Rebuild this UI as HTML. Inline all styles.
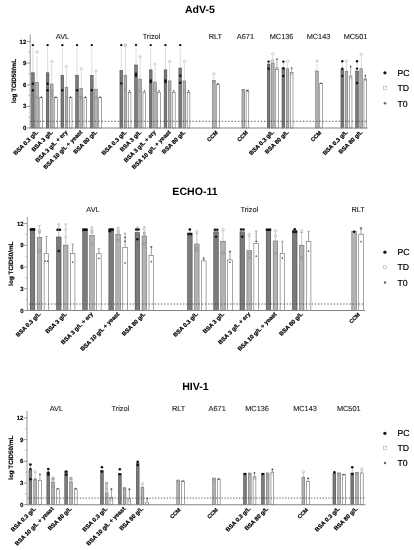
<!DOCTYPE html>
<html><head><meta charset="utf-8"><title>Figure</title>
<style>
html,body{margin:0;padding:0;background:#fff;}
body{width:414px;height:550px;overflow:hidden;}
svg{display:block;}
text{font-family:"Liberation Sans", Arial, sans-serif;fill:#000;text-rendering:geometricPrecision;}
.ttl{font-size:10.6px;font-weight:bold;text-anchor:middle;}
.cat{font-size:7.35px;text-anchor:middle;fill:#222;stroke:#222;stroke-width:0.12px;}
.tick{font-size:6px;font-weight:bold;text-anchor:end;stroke:#000;stroke-width:0.15px;}
.ylab{font-size:6.3px;font-weight:bold;text-anchor:middle;stroke:#000;stroke-width:0.15px;}
.xl{font-size:5.85px;font-weight:bold;text-anchor:end;stroke:#000;stroke-width:0.2px;}
.leg{font-size:8.7px;stroke:#000;stroke-width:0.2px;}
.ax{stroke:#555;stroke-width:0.6;}
.bl{stroke:#858585;stroke-width:1.1;}
.axm{stroke:#777;stroke-width:0.5;}
.err{stroke:#b8b8b8;stroke-width:0.6;}
.errc{stroke:#888;stroke-width:0.6;}
.dash{stroke:#4a4a4a;stroke-width:0.9;}
</style></head>
<body>
<svg width="414" height="550" viewBox="0 0 414 550">
<rect width="414" height="550" fill="#fff"/>
<text x="199.9" y="13.1" class="ttl">AdV-5</text>
<text x="62.5" y="38.7" class="cat">AVL</text>
<text x="151.5" y="38.7" class="cat">Trizol</text>
<text x="215.3" y="38.7" class="cat">RLT</text>
<text x="245.4" y="38.7" class="cat">A671</text>
<text x="281.6" y="38.7" class="cat">MC136</text>
<text x="318.5" y="38.7" class="cat">MC143</text>
<text x="355.5" y="38.7" class="cat">MC501</text>
<line x1="30.2" y1="34.3" x2="30.2" y2="128.4" class="ax"/>
<line x1="27" y1="128" x2="30.2" y2="128" class="ax"/>
<text x="26.3" y="130.1" class="tick">0</text>
<line x1="27" y1="106.37" x2="30.2" y2="106.37" class="ax"/>
<text x="26.3" y="108.47" class="tick">3</text>
<line x1="27" y1="84.74" x2="30.2" y2="84.74" class="ax"/>
<text x="26.3" y="86.84" class="tick">6</text>
<line x1="27" y1="63.11" x2="30.2" y2="63.11" class="ax"/>
<text x="26.3" y="65.21" class="tick">9</text>
<line x1="27" y1="41.48" x2="30.2" y2="41.48" class="ax"/>
<text x="26.3" y="43.58" class="tick">12</text>
<line x1="28.4" y1="117.19" x2="30.2" y2="117.19" class="axm"/>
<line x1="28.4" y1="95.56" x2="30.2" y2="95.56" class="axm"/>
<line x1="28.4" y1="73.92" x2="30.2" y2="73.92" class="axm"/>
<line x1="28.4" y1="52.3" x2="30.2" y2="52.3" class="axm"/>
<text transform="translate(15.6,81) rotate(-90)" class="ylab">log TCID50/mL</text>
<line x1="32.87" y1="47.5" x2="32.87" y2="72.8" stroke="#c4c4c4" stroke-width="0.6"/>
<rect x="31.52" y="72.8" width="2.7" height="55.2" fill="#7b7b7b" stroke="#3a3a3a" stroke-width="0.5"/>
<line x1="37.02" y1="56" x2="37.02" y2="82.4" stroke="#c4c4c4" stroke-width="0.6"/>
<rect x="35.67" y="82.4" width="2.7" height="45.6" fill="#b3b1b3" stroke="#606060" stroke-width="0.5"/>
<rect x="39.82" y="97.5" width="2.7" height="30.5" fill="#ffffff" stroke="#4e4e4e" stroke-width="0.5"/>
<line x1="47.6" y1="47.5" x2="47.6" y2="72.8" stroke="#c4c4c4" stroke-width="0.6"/>
<rect x="46.25" y="72.8" width="2.7" height="55.2" fill="#7b7b7b" stroke="#3a3a3a" stroke-width="0.5"/>
<line x1="51.75" y1="64" x2="51.75" y2="84" stroke="#c4c4c4" stroke-width="0.6"/>
<rect x="50.4" y="84" width="2.7" height="44" fill="#b3b1b3" stroke="#606060" stroke-width="0.5"/>
<rect x="54.55" y="97.5" width="2.7" height="30.5" fill="#ffffff" stroke="#4e4e4e" stroke-width="0.5"/>
<line x1="62.34" y1="47.5" x2="62.34" y2="75.3" stroke="#c4c4c4" stroke-width="0.6"/>
<rect x="60.99" y="75.3" width="2.7" height="52.7" fill="#7b7b7b" stroke="#3a3a3a" stroke-width="0.5"/>
<line x1="66.49" y1="69" x2="66.49" y2="87.3" stroke="#c4c4c4" stroke-width="0.6"/>
<rect x="65.14" y="87.3" width="2.7" height="40.7" fill="#b3b1b3" stroke="#606060" stroke-width="0.5"/>
<rect x="69.29" y="97.5" width="2.7" height="30.5" fill="#ffffff" stroke="#4e4e4e" stroke-width="0.5"/>
<line x1="77.07" y1="47.5" x2="77.07" y2="75.3" stroke="#c4c4c4" stroke-width="0.6"/>
<rect x="75.72" y="75.3" width="2.7" height="52.7" fill="#7b7b7b" stroke="#3a3a3a" stroke-width="0.5"/>
<line x1="81.22" y1="71" x2="81.22" y2="88.2" stroke="#c4c4c4" stroke-width="0.6"/>
<rect x="79.88" y="88.2" width="2.7" height="39.8" fill="#b3b1b3" stroke="#606060" stroke-width="0.5"/>
<rect x="84.02" y="97.5" width="2.7" height="30.5" fill="#ffffff" stroke="#4e4e4e" stroke-width="0.5"/>
<line x1="91.81" y1="47.5" x2="91.81" y2="75.3" stroke="#c4c4c4" stroke-width="0.6"/>
<rect x="90.46" y="75.3" width="2.7" height="52.7" fill="#7b7b7b" stroke="#3a3a3a" stroke-width="0.5"/>
<line x1="95.96" y1="73" x2="95.96" y2="89.2" stroke="#c4c4c4" stroke-width="0.6"/>
<rect x="94.61" y="89.2" width="2.7" height="38.8" fill="#b3b1b3" stroke="#606060" stroke-width="0.5"/>
<rect x="98.76" y="97.5" width="2.7" height="30.5" fill="#ffffff" stroke="#4e4e4e" stroke-width="0.5"/>
<line x1="121.28" y1="47.5" x2="121.28" y2="70.5" stroke="#c4c4c4" stroke-width="0.6"/>
<rect x="119.93" y="70.5" width="2.7" height="57.5" fill="#7b7b7b" stroke="#3a3a3a" stroke-width="0.5"/>
<line x1="125.43" y1="47" x2="125.43" y2="75.3" stroke="#c4c4c4" stroke-width="0.6"/>
<rect x="124.08" y="75.3" width="2.7" height="52.7" fill="#b3b1b3" stroke="#606060" stroke-width="0.5"/>
<rect x="128.23" y="92.5" width="2.7" height="35.5" fill="#ffffff" stroke="#4e4e4e" stroke-width="0.5"/>
<line x1="136.01" y1="47.5" x2="136.01" y2="65" stroke="#c4c4c4" stroke-width="0.6"/>
<rect x="134.66" y="65" width="2.7" height="63" fill="#7b7b7b" stroke="#3a3a3a" stroke-width="0.5"/>
<line x1="140.16" y1="59" x2="140.16" y2="79" stroke="#c4c4c4" stroke-width="0.6"/>
<rect x="138.81" y="79" width="2.7" height="49" fill="#b3b1b3" stroke="#606060" stroke-width="0.5"/>
<rect x="142.97" y="92.5" width="2.7" height="35.5" fill="#ffffff" stroke="#4e4e4e" stroke-width="0.5"/>
<line x1="150.75" y1="47.5" x2="150.75" y2="69.9" stroke="#c4c4c4" stroke-width="0.6"/>
<rect x="149.4" y="69.9" width="2.7" height="58.1" fill="#7b7b7b" stroke="#3a3a3a" stroke-width="0.5"/>
<line x1="154.9" y1="66" x2="154.9" y2="82" stroke="#c4c4c4" stroke-width="0.6"/>
<rect x="153.55" y="82" width="2.7" height="46" fill="#b3b1b3" stroke="#606060" stroke-width="0.5"/>
<rect x="157.7" y="92.5" width="2.7" height="35.5" fill="#ffffff" stroke="#4e4e4e" stroke-width="0.5"/>
<line x1="165.49" y1="47.5" x2="165.49" y2="69.9" stroke="#c4c4c4" stroke-width="0.6"/>
<rect x="164.14" y="69.9" width="2.7" height="58.1" fill="#7b7b7b" stroke="#3a3a3a" stroke-width="0.5"/>
<line x1="169.64" y1="64" x2="169.64" y2="80.9" stroke="#c4c4c4" stroke-width="0.6"/>
<rect x="168.29" y="80.9" width="2.7" height="47.1" fill="#b3b1b3" stroke="#606060" stroke-width="0.5"/>
<rect x="172.44" y="92.5" width="2.7" height="35.5" fill="#ffffff" stroke="#4e4e4e" stroke-width="0.5"/>
<line x1="180.22" y1="47.5" x2="180.22" y2="68" stroke="#c4c4c4" stroke-width="0.6"/>
<rect x="178.87" y="68" width="2.7" height="60" fill="#7b7b7b" stroke="#3a3a3a" stroke-width="0.5"/>
<line x1="184.37" y1="64" x2="184.37" y2="80.9" stroke="#c4c4c4" stroke-width="0.6"/>
<rect x="183.02" y="80.9" width="2.7" height="47.1" fill="#b3b1b3" stroke="#606060" stroke-width="0.5"/>
<rect x="187.17" y="92.5" width="2.7" height="35.5" fill="#ffffff" stroke="#4e4e4e" stroke-width="0.5"/>
<line x1="213.84" y1="76" x2="213.84" y2="80.3" stroke="#c4c4c4" stroke-width="0.6"/>
<rect x="212.49" y="80.3" width="2.7" height="47.7" fill="#b3b1b3" stroke="#606060" stroke-width="0.5"/>
<rect x="216.64" y="84.6" width="2.7" height="43.4" fill="#ffffff" stroke="#4e4e4e" stroke-width="0.5"/>
<rect x="241.96" y="89.7" width="2.7" height="38.3" fill="#b3b1b3" stroke="#606060" stroke-width="0.5"/>
<rect x="246.11" y="90" width="2.7" height="38" fill="#ffffff" stroke="#4e4e4e" stroke-width="0.5"/>
<line x1="268.63" y1="62" x2="268.63" y2="64" stroke="#c4c4c4" stroke-width="0.6"/>
<rect x="267.28" y="64" width="2.7" height="64" fill="#7b7b7b" stroke="#3a3a3a" stroke-width="0.5"/>
<line x1="272.78" y1="56" x2="272.78" y2="63.5" stroke="#c4c4c4" stroke-width="0.6"/>
<rect x="271.43" y="63.5" width="2.7" height="64.5" fill="#b3b1b3" stroke="#606060" stroke-width="0.5"/>
<line x1="276.93" y1="58.5" x2="276.93" y2="69.3" stroke="#777777" stroke-width="0.6"/>
<rect x="275.58" y="69.3" width="2.7" height="58.7" fill="#ffffff" stroke="#4e4e4e" stroke-width="0.5"/>
<line x1="283.37" y1="62" x2="283.37" y2="67.6" stroke="#c4c4c4" stroke-width="0.6"/>
<rect x="282.01" y="67.6" width="2.7" height="60.4" fill="#7b7b7b" stroke="#3a3a3a" stroke-width="0.5"/>
<line x1="287.51" y1="63" x2="287.51" y2="68.8" stroke="#c4c4c4" stroke-width="0.6"/>
<rect x="286.16" y="68.8" width="2.7" height="59.2" fill="#b3b1b3" stroke="#606060" stroke-width="0.5"/>
<line x1="291.67" y1="67.2" x2="291.67" y2="72.7" stroke="#777777" stroke-width="0.6"/>
<rect x="290.31" y="72.7" width="2.7" height="55.3" fill="#ffffff" stroke="#4e4e4e" stroke-width="0.5"/>
<line x1="316.98" y1="64" x2="316.98" y2="71" stroke="#c4c4c4" stroke-width="0.6"/>
<rect x="315.63" y="71" width="2.7" height="57" fill="#b3b1b3" stroke="#606060" stroke-width="0.5"/>
<rect x="319.78" y="83.3" width="2.7" height="44.7" fill="#ffffff" stroke="#4e4e4e" stroke-width="0.5"/>
<line x1="342.31" y1="62" x2="342.31" y2="69.6" stroke="#c4c4c4" stroke-width="0.6"/>
<rect x="340.95" y="69.6" width="2.7" height="58.4" fill="#7b7b7b" stroke="#3a3a3a" stroke-width="0.5"/>
<line x1="346.45" y1="62" x2="346.45" y2="71.4" stroke="#c4c4c4" stroke-width="0.6"/>
<rect x="345.1" y="71.4" width="2.7" height="56.6" fill="#b3b1b3" stroke="#606060" stroke-width="0.5"/>
<line x1="350.61" y1="65.6" x2="350.61" y2="76.1" stroke="#777777" stroke-width="0.6"/>
<rect x="349.25" y="76.1" width="2.7" height="51.9" fill="#ffffff" stroke="#4e4e4e" stroke-width="0.5"/>
<line x1="357.04" y1="62" x2="357.04" y2="71" stroke="#c4c4c4" stroke-width="0.6"/>
<rect x="355.69" y="71" width="2.7" height="57" fill="#7b7b7b" stroke="#3a3a3a" stroke-width="0.5"/>
<line x1="361.19" y1="56" x2="361.19" y2="68.8" stroke="#c4c4c4" stroke-width="0.6"/>
<rect x="359.84" y="68.8" width="2.7" height="59.2" fill="#b3b1b3" stroke="#606060" stroke-width="0.5"/>
<line x1="365.34" y1="74.6" x2="365.34" y2="79.7" stroke="#777777" stroke-width="0.6"/>
<rect x="363.99" y="79.7" width="2.7" height="48.3" fill="#ffffff" stroke="#4e4e4e" stroke-width="0.5"/>
<line x1="30.2" y1="121.3" x2="367.5" y2="121.3" class="dash" stroke-dasharray="1.46 1.79" stroke-dashoffset="0.28"/>
<line x1="30.2" y1="128" x2="367.5" y2="128" class="bl"/>
<circle cx="32.87" cy="45.1" r="1.2" fill="#111"/>
<circle cx="32.87" cy="83.8" r="1.2" fill="#111"/>
<circle cx="32.87" cy="90.2" r="1.2" fill="#111"/>
<circle cx="37.02" cy="51.9" r="1.2" fill="#fff" stroke="#9a9a9a" stroke-width="0.5"/>
<rect x="35.92" y="96.4" width="2.2" height="2.2" fill="none" stroke="#8a8a8a" stroke-width="0.5"/>
<path d="M40.17 97.8L41.17 96.1L42.17 97.8Z" fill="#333"/>
<circle cx="47.6" cy="45.1" r="1.2" fill="#111"/>
<circle cx="47.6" cy="83.8" r="1.2" fill="#111"/>
<circle cx="47.6" cy="90.2" r="1.2" fill="#111"/>
<circle cx="51.75" cy="61.6" r="1.2" fill="#fff" stroke="#9a9a9a" stroke-width="0.5"/>
<rect x="50.65" y="90.4" width="2.2" height="2.2" fill="none" stroke="#8a8a8a" stroke-width="0.5"/>
<rect x="50.65" y="94.4" width="2.2" height="2.2" fill="none" stroke="#8a8a8a" stroke-width="0.5"/>
<path d="M54.9 97.8L55.9 96.1L56.9 97.8Z" fill="#333"/>
<circle cx="62.34" cy="45.1" r="1.2" fill="#111"/>
<circle cx="62.34" cy="90.2" r="1.2" fill="#111"/>
<circle cx="66.49" cy="66.6" r="1.2" fill="#fff" stroke="#9a9a9a" stroke-width="0.5"/>
<rect x="65.39" y="96.4" width="2.2" height="2.2" fill="none" stroke="#8a8a8a" stroke-width="0.5"/>
<path d="M69.64 97.8L70.64 96.1L71.64 97.8Z" fill="#333"/>
<circle cx="77.07" cy="45.1" r="1.2" fill="#111"/>
<circle cx="77.07" cy="90.2" r="1.2" fill="#111"/>
<circle cx="81.22" cy="68.9" r="1.2" fill="#fff" stroke="#9a9a9a" stroke-width="0.5"/>
<rect x="80.12" y="96.4" width="2.2" height="2.2" fill="none" stroke="#8a8a8a" stroke-width="0.5"/>
<path d="M84.37 97.8L85.37 96.1L86.37 97.8Z" fill="#333"/>
<circle cx="91.81" cy="45.1" r="1.2" fill="#111"/>
<circle cx="91.81" cy="90.2" r="1.2" fill="#111"/>
<circle cx="95.96" cy="71.2" r="1.2" fill="#fff" stroke="#9a9a9a" stroke-width="0.5"/>
<rect x="94.86" y="96.4" width="2.2" height="2.2" fill="none" stroke="#8a8a8a" stroke-width="0.5"/>
<path d="M99.11 97.8L100.11 96.1L101.11 97.8Z" fill="#333"/>
<circle cx="121.28" cy="45.1" r="1.2" fill="#111"/>
<circle cx="121.28" cy="83.4" r="1.2" fill="#111"/>
<rect x="124.33" y="44" width="2.2" height="2.2" fill="none" stroke="#8a8a8a" stroke-width="0.5"/>
<rect x="124.33" y="89.1" width="2.2" height="2.2" fill="none" stroke="#8a8a8a" stroke-width="0.5"/>
<path d="M128.58 91.4L129.58 89.7L130.58 91.4Z" fill="#333"/>
<circle cx="136.01" cy="45.1" r="1.2" fill="#111"/>
<circle cx="136.01" cy="73.7" r="1.2" fill="#111"/>
<circle cx="136.01" cy="75.7" r="1.2" fill="#111"/>
<circle cx="140.16" cy="56.9" r="1.2" fill="#fff" stroke="#9a9a9a" stroke-width="0.5"/>
<rect x="139.06" y="89.1" width="2.2" height="2.2" fill="none" stroke="#8a8a8a" stroke-width="0.5"/>
<path d="M143.31 91.4L144.31 89.7L145.31 91.4Z" fill="#333"/>
<circle cx="150.75" cy="45.1" r="1.2" fill="#111"/>
<circle cx="150.75" cy="80.5" r="1.2" fill="#111"/>
<circle cx="150.75" cy="82" r="1.2" fill="#111"/>
<circle cx="154.9" cy="64.1" r="1.2" fill="#fff" stroke="#9a9a9a" stroke-width="0.5"/>
<rect x="153.8" y="89.1" width="2.2" height="2.2" fill="none" stroke="#8a8a8a" stroke-width="0.5"/>
<path d="M158.05 91.4L159.05 89.7L160.05 91.4Z" fill="#333"/>
<circle cx="165.49" cy="45.1" r="1.2" fill="#111"/>
<circle cx="165.49" cy="80.5" r="1.2" fill="#111"/>
<circle cx="165.49" cy="82" r="1.2" fill="#111"/>
<circle cx="169.64" cy="61.6" r="1.2" fill="#fff" stroke="#9a9a9a" stroke-width="0.5"/>
<rect x="168.54" y="89.1" width="2.2" height="2.2" fill="none" stroke="#8a8a8a" stroke-width="0.5"/>
<path d="M172.79 91.4L173.79 89.7L174.79 91.4Z" fill="#333"/>
<circle cx="180.22" cy="45.1" r="1.2" fill="#111"/>
<circle cx="180.22" cy="75.7" r="1.2" fill="#111"/>
<circle cx="180.22" cy="82.8" r="1.2" fill="#111"/>
<circle cx="184.37" cy="61.6" r="1.2" fill="#fff" stroke="#9a9a9a" stroke-width="0.5"/>
<rect x="183.27" y="89.1" width="2.2" height="2.2" fill="none" stroke="#8a8a8a" stroke-width="0.5"/>
<path d="M187.52 91.4L188.52 89.7L189.52 91.4Z" fill="#333"/>
<circle cx="213.84" cy="73.8" r="1.2" fill="#fff" stroke="#9a9a9a" stroke-width="0.5"/>
<rect x="212.74" y="80.6" width="2.2" height="2.2" fill="none" stroke="#8a8a8a" stroke-width="0.5"/>
<path d="M216.99 84.3L217.99 82.6L218.99 84.3Z" fill="#333"/>
<rect x="242.21" y="89.3" width="2.2" height="2.2" fill="none" stroke="#8a8a8a" stroke-width="0.5"/>
<path d="M246.46 91.4L247.46 89.7L248.46 91.4Z" fill="#333"/>
<circle cx="268.63" cy="61.6" r="1.2" fill="#111"/>
<circle cx="268.63" cy="68.8" r="1.2" fill="#111"/>
<circle cx="272.78" cy="53.9" r="1.2" fill="#fff" stroke="#9a9a9a" stroke-width="0.5"/>
<rect x="271.68" y="60" width="2.2" height="2.2" fill="none" stroke="#8a8a8a" stroke-width="0.5"/>
<path d="M275.93 59.8L276.93 58.1L277.93 59.8Z" fill="#333"/>
<rect x="275.83" y="67.4" width="2.2" height="2.2" fill="none" stroke="#8a8a8a" stroke-width="0.5"/>
<circle cx="283.37" cy="61.6" r="1.2" fill="#111"/>
<circle cx="283.37" cy="68.6" r="1.2" fill="#111"/>
<circle cx="283.37" cy="75.9" r="1.2" fill="#111"/>
<circle cx="287.51" cy="61.4" r="1.2" fill="#fff" stroke="#9a9a9a" stroke-width="0.5"/>
<path d="M290.67 68.6L291.67 66.9L292.67 68.6Z" fill="#333"/>
<rect x="290.56" y="72.4" width="2.2" height="2.2" fill="none" stroke="#8a8a8a" stroke-width="0.5"/>
<circle cx="316.98" cy="61.3" r="1.2" fill="#fff" stroke="#9a9a9a" stroke-width="0.5"/>
<path d="M320.13 83.8L321.13 82.1L322.13 83.8Z" fill="#333"/>
<circle cx="342.31" cy="61.3" r="1.2" fill="#111"/>
<circle cx="342.31" cy="68.8" r="1.2" fill="#111"/>
<circle cx="342.31" cy="76.1" r="1.2" fill="#111"/>
<circle cx="346.45" cy="60.9" r="1.2" fill="#fff" stroke="#9a9a9a" stroke-width="0.5"/>
<path d="M349.61 67.3L350.61 65.6L351.61 67.3Z" fill="#333"/>
<rect x="349.5" y="76.4" width="2.2" height="2.2" fill="none" stroke="#8a8a8a" stroke-width="0.5"/>
<circle cx="357.04" cy="61.3" r="1.2" fill="#111"/>
<circle cx="357.04" cy="68.6" r="1.2" fill="#111"/>
<circle cx="357.04" cy="83" r="1.2" fill="#111"/>
<circle cx="361.19" cy="54.3" r="1.2" fill="#fff" stroke="#9a9a9a" stroke-width="0.5"/>
<path d="M364.34 76.3L365.34 74.6L366.34 76.3Z" fill="#333"/>
<rect x="364.24" y="78.4" width="2.2" height="2.2" fill="none" stroke="#8a8a8a" stroke-width="0.5"/>
<text transform="translate(38.52,132.6) rotate(-45)" class="xl">BSA 0.3 g/L</text>
<text transform="translate(53.25,132.6) rotate(-45)" class="xl">BSA 3 g/L</text>
<text transform="translate(67.99,132.6) rotate(-45)" class="xl">BSA 3 g/L + ery</text>
<text transform="translate(82.72,132.6) rotate(-45)" class="xl">BSA 10 g/L + yeast</text>
<text transform="translate(97.46,132.6) rotate(-45)" class="xl">BSA 80 g/L</text>
<text transform="translate(126.93,132.6) rotate(-45)" class="xl">BSA 0.3 g/L</text>
<text transform="translate(141.66,132.6) rotate(-45)" class="xl">BSA 3 g/L</text>
<text transform="translate(156.4,132.6) rotate(-45)" class="xl">BSA 3 g/L + ery</text>
<text transform="translate(171.14,132.6) rotate(-45)" class="xl">BSA 10 g/L + yeast</text>
<text transform="translate(185.87,132.6) rotate(-45)" class="xl">BSA 80 g/L</text>
<text transform="translate(218.22,133.1) rotate(-45)" class="xl" style="font-size:5.5px">CCM</text>
<text transform="translate(248.28,133.1) rotate(-45)" class="xl" style="font-size:5.5px">CCM</text>
<text transform="translate(274.28,132.6) rotate(-45)" class="xl">BSA 0.3 g/L</text>
<text transform="translate(289.01,132.6) rotate(-45)" class="xl">BSA 80 g/L</text>
<text transform="translate(321.86,133.2) rotate(-45)" class="xl" style="font-size:5.5px">CCM</text>
<text transform="translate(347.95,132.6) rotate(-45)" class="xl">BSA 0.3 g/L</text>
<text transform="translate(362.69,132.6) rotate(-45)" class="xl">BSA 80 g/L</text>
<circle cx="384.9" cy="72.8" r="1.6" fill="#111"/>
<rect x="383.6" y="86.6" width="2.8" height="2.8" fill="#fff" stroke="#999" stroke-width="0.5"/>
<circle cx="385" cy="103.3" r="1.25" fill="#6a6a6a"/>
<text x="397.4" y="75.7" class="leg">PC</text>
<text x="397.4" y="91.2" class="leg">TD</text>
<text x="397.4" y="106.5" class="leg">T0</text>
<text x="195" y="195.1" class="ttl">ECHO-11</text>
<text x="93" y="212" class="cat">AVL</text>
<text x="249.3" y="212" class="cat">Trizol</text>
<text x="358.1" y="212" class="cat">RLT</text>
<line x1="27.3" y1="217" x2="27.3" y2="310.9" class="ax"/>
<line x1="24.1" y1="310.5" x2="27.3" y2="310.5" class="ax"/>
<text x="23.6" y="312.6" class="tick">0</text>
<line x1="24.1" y1="288.78" x2="27.3" y2="288.78" class="ax"/>
<text x="23.6" y="290.88" class="tick">3</text>
<line x1="24.1" y1="267.06" x2="27.3" y2="267.06" class="ax"/>
<text x="23.6" y="269.16" class="tick">6</text>
<line x1="24.1" y1="245.34" x2="27.3" y2="245.34" class="ax"/>
<text x="23.6" y="247.44" class="tick">9</text>
<line x1="24.1" y1="223.62" x2="27.3" y2="223.62" class="ax"/>
<text x="23.6" y="225.72" class="tick">12</text>
<line x1="25.5" y1="299.64" x2="27.3" y2="299.64" class="axm"/>
<line x1="25.5" y1="277.92" x2="27.3" y2="277.92" class="axm"/>
<line x1="25.5" y1="256.2" x2="27.3" y2="256.2" class="axm"/>
<line x1="25.5" y1="234.48" x2="27.3" y2="234.48" class="axm"/>
<text transform="translate(12.9,263.6) rotate(-90)" class="ylab">log TCID50/mL</text>
<rect x="30.22" y="228.6" width="4.6" height="81.9" fill="#7b7b7b" stroke="#3a3a3a" stroke-width="0.5"/>
<line x1="39.47" y1="225.6" x2="39.47" y2="237.2" stroke="#a8a8a8" stroke-width="0.6"/>
<line x1="38.17" y1="225.6" x2="40.77" y2="225.6" class="errc"/>
<rect x="37.17" y="237.2" width="4.6" height="73.3" fill="#b3b1b3" stroke="#606060" stroke-width="0.5"/>
<line x1="46.42" y1="236.5" x2="46.42" y2="253.4" stroke="#5a5a5a" stroke-width="0.6"/>
<line x1="45.12" y1="236.5" x2="47.72" y2="236.5" class="errc"/>
<rect x="44.12" y="253.4" width="4.6" height="57.1" fill="#ffffff" stroke="#4e4e4e" stroke-width="0.5"/>
<line x1="58.74" y1="224" x2="58.74" y2="237" stroke="#8c8c8c" stroke-width="0.6"/>
<line x1="57.44" y1="224" x2="60.04" y2="224" class="errc"/>
<rect x="56.44" y="237" width="4.6" height="73.5" fill="#7b7b7b" stroke="#3a3a3a" stroke-width="0.5"/>
<line x1="65.69" y1="224" x2="65.69" y2="245.1" stroke="#a8a8a8" stroke-width="0.6"/>
<line x1="64.39" y1="224" x2="66.99" y2="224" class="errc"/>
<rect x="63.39" y="245.1" width="4.6" height="65.4" fill="#b3b1b3" stroke="#606060" stroke-width="0.5"/>
<line x1="72.64" y1="244" x2="72.64" y2="253.4" stroke="#5a5a5a" stroke-width="0.6"/>
<line x1="71.34" y1="244" x2="73.94" y2="244" class="errc"/>
<rect x="70.34" y="253.4" width="4.6" height="57.1" fill="#ffffff" stroke="#4e4e4e" stroke-width="0.5"/>
<rect x="82.66" y="228.9" width="4.6" height="81.6" fill="#7b7b7b" stroke="#3a3a3a" stroke-width="0.5"/>
<line x1="91.91" y1="227" x2="91.91" y2="235.4" stroke="#a8a8a8" stroke-width="0.6"/>
<line x1="90.61" y1="227" x2="93.21" y2="227" class="errc"/>
<rect x="89.61" y="235.4" width="4.6" height="75.1" fill="#b3b1b3" stroke="#606060" stroke-width="0.5"/>
<line x1="98.86" y1="248.6" x2="98.86" y2="253.8" stroke="#5a5a5a" stroke-width="0.6"/>
<line x1="97.56" y1="248.6" x2="100.16" y2="248.6" class="errc"/>
<rect x="96.56" y="253.8" width="4.6" height="56.7" fill="#ffffff" stroke="#4e4e4e" stroke-width="0.5"/>
<rect x="108.88" y="229.3" width="4.6" height="81.2" fill="#7b7b7b" stroke="#3a3a3a" stroke-width="0.5"/>
<line x1="118.13" y1="227.7" x2="118.13" y2="234.2" stroke="#a8a8a8" stroke-width="0.6"/>
<line x1="116.83" y1="227.7" x2="119.43" y2="227.7" class="errc"/>
<rect x="115.83" y="234.2" width="4.6" height="76.3" fill="#b3b1b3" stroke="#606060" stroke-width="0.5"/>
<line x1="125.08" y1="233.1" x2="125.08" y2="247.3" stroke="#5a5a5a" stroke-width="0.6"/>
<line x1="123.78" y1="233.1" x2="126.38" y2="233.1" class="errc"/>
<rect x="122.78" y="247.3" width="4.6" height="63.2" fill="#ffffff" stroke="#4e4e4e" stroke-width="0.5"/>
<line x1="137.4" y1="227" x2="137.4" y2="232.5" stroke="#8c8c8c" stroke-width="0.6"/>
<line x1="136.1" y1="227" x2="138.7" y2="227" class="errc"/>
<rect x="135.1" y="232.5" width="4.6" height="78" fill="#7b7b7b" stroke="#3a3a3a" stroke-width="0.5"/>
<line x1="144.35" y1="227" x2="144.35" y2="236" stroke="#a8a8a8" stroke-width="0.6"/>
<line x1="143.05" y1="227" x2="145.65" y2="227" class="errc"/>
<rect x="142.05" y="236" width="4.6" height="74.5" fill="#b3b1b3" stroke="#606060" stroke-width="0.5"/>
<line x1="151.3" y1="246.6" x2="151.3" y2="255.4" stroke="#5a5a5a" stroke-width="0.6"/>
<line x1="150" y1="246.6" x2="152.6" y2="246.6" class="errc"/>
<rect x="149" y="255.4" width="4.6" height="55.1" fill="#ffffff" stroke="#4e4e4e" stroke-width="0.5"/>
<line x1="189.84" y1="229" x2="189.84" y2="233.1" stroke="#8c8c8c" stroke-width="0.6"/>
<line x1="188.54" y1="229" x2="191.14" y2="229" class="errc"/>
<rect x="187.54" y="233.1" width="4.6" height="77.4" fill="#7b7b7b" stroke="#3a3a3a" stroke-width="0.5"/>
<line x1="196.79" y1="233.1" x2="196.79" y2="244" stroke="#a8a8a8" stroke-width="0.6"/>
<line x1="195.49" y1="233.1" x2="198.09" y2="233.1" class="errc"/>
<rect x="194.49" y="244" width="4.6" height="66.5" fill="#b3b1b3" stroke="#606060" stroke-width="0.5"/>
<line x1="203.74" y1="257.9" x2="203.74" y2="260.9" stroke="#5a5a5a" stroke-width="0.6"/>
<line x1="202.44" y1="257.9" x2="205.04" y2="257.9" class="errc"/>
<rect x="201.44" y="260.9" width="4.6" height="49.6" fill="#ffffff" stroke="#4e4e4e" stroke-width="0.5"/>
<rect x="213.76" y="231.8" width="4.6" height="78.7" fill="#7b7b7b" stroke="#3a3a3a" stroke-width="0.5"/>
<line x1="223.01" y1="229.7" x2="223.01" y2="241.2" stroke="#a8a8a8" stroke-width="0.6"/>
<line x1="221.71" y1="229.7" x2="224.31" y2="229.7" class="errc"/>
<rect x="220.71" y="241.2" width="4.6" height="69.3" fill="#b3b1b3" stroke="#606060" stroke-width="0.5"/>
<line x1="229.96" y1="251.2" x2="229.96" y2="259.9" stroke="#5a5a5a" stroke-width="0.6"/>
<line x1="228.66" y1="251.2" x2="231.26" y2="251.2" class="errc"/>
<rect x="227.66" y="259.9" width="4.6" height="50.6" fill="#ffffff" stroke="#4e4e4e" stroke-width="0.5"/>
<rect x="239.98" y="231.8" width="4.6" height="78.7" fill="#7b7b7b" stroke="#3a3a3a" stroke-width="0.5"/>
<line x1="249.23" y1="236.1" x2="249.23" y2="250.5" stroke="#a8a8a8" stroke-width="0.6"/>
<line x1="247.93" y1="236.1" x2="250.53" y2="236.1" class="errc"/>
<rect x="246.93" y="250.5" width="4.6" height="60" fill="#b3b1b3" stroke="#606060" stroke-width="0.5"/>
<line x1="256.18" y1="231" x2="256.18" y2="243.3" stroke="#5a5a5a" stroke-width="0.6"/>
<line x1="254.88" y1="231" x2="257.48" y2="231" class="errc"/>
<rect x="253.88" y="243.3" width="4.6" height="67.2" fill="#ffffff" stroke="#4e4e4e" stroke-width="0.5"/>
<rect x="266.2" y="229.4" width="4.6" height="81.1" fill="#7b7b7b" stroke="#3a3a3a" stroke-width="0.5"/>
<line x1="275.45" y1="230.7" x2="275.45" y2="241" stroke="#a8a8a8" stroke-width="0.6"/>
<line x1="274.15" y1="230.7" x2="276.75" y2="230.7" class="errc"/>
<rect x="273.15" y="241" width="4.6" height="69.5" fill="#b3b1b3" stroke="#606060" stroke-width="0.5"/>
<line x1="282.4" y1="241.3" x2="282.4" y2="253.4" stroke="#5a5a5a" stroke-width="0.6"/>
<line x1="281.1" y1="241.3" x2="283.7" y2="241.3" class="errc"/>
<rect x="280.1" y="253.4" width="4.6" height="57.1" fill="#ffffff" stroke="#4e4e4e" stroke-width="0.5"/>
<rect x="292.42" y="230.6" width="4.6" height="79.9" fill="#7b7b7b" stroke="#3a3a3a" stroke-width="0.5"/>
<line x1="301.67" y1="232.5" x2="301.67" y2="245.2" stroke="#a8a8a8" stroke-width="0.6"/>
<line x1="300.37" y1="232.5" x2="302.97" y2="232.5" class="errc"/>
<rect x="299.37" y="245.2" width="4.6" height="65.3" fill="#b3b1b3" stroke="#606060" stroke-width="0.5"/>
<line x1="308.62" y1="231.3" x2="308.62" y2="241.3" stroke="#5a5a5a" stroke-width="0.6"/>
<line x1="307.32" y1="231.3" x2="309.92" y2="231.3" class="errc"/>
<rect x="306.32" y="241.3" width="4.6" height="69.2" fill="#ffffff" stroke="#4e4e4e" stroke-width="0.5"/>
<rect x="351.81" y="231.2" width="4.6" height="79.3" fill="#b3b1b3" stroke="#606060" stroke-width="0.5"/>
<line x1="361.06" y1="227.5" x2="361.06" y2="234.2" stroke="#5a5a5a" stroke-width="0.6"/>
<line x1="359.76" y1="227.5" x2="362.36" y2="227.5" class="errc"/>
<rect x="358.76" y="234.2" width="4.6" height="76.3" fill="#ffffff" stroke="#4e4e4e" stroke-width="0.5"/>
<line x1="27.3" y1="304" x2="365" y2="304" class="dash" stroke-dasharray="1.41 1.73" stroke-dashoffset="1.33"/>
<line x1="27.3" y1="310.5" x2="365" y2="310.5" class="bl"/>
<circle cx="30.92" cy="229.6" r="1.3" fill="#111"/>
<circle cx="32.02" cy="229.6" r="1.3" fill="#111"/>
<circle cx="33.12" cy="229.6" r="1.3" fill="#111"/>
<circle cx="34.12" cy="229.6" r="1.3" fill="#111"/>
<circle cx="39.47" cy="230.5" r="1.2" fill="#fff" stroke="#9a9a9a" stroke-width="0.5"/>
<rect x="38.37" y="230.9" width="2.2" height="2.2" fill="none" stroke="#8a8a8a" stroke-width="0.5"/>
<rect x="38.37" y="249.9" width="2.2" height="2.2" fill="none" stroke="#8a8a8a" stroke-width="0.5"/>
<path d="M44.12 261.7L45.12 260L46.12 261.7Z" fill="#333"/>
<path d="M46.72 261.7L47.72 260L48.72 261.7Z" fill="#333"/>
<circle cx="57.54" cy="229.7" r="1.3" fill="#111"/>
<circle cx="59.94" cy="229.7" r="1.3" fill="#111"/>
<circle cx="58.74" cy="251" r="1.3" fill="#111"/>
<circle cx="65.69" cy="229.7" r="1.2" fill="#fff" stroke="#9a9a9a" stroke-width="0.5"/>
<circle cx="65.69" cy="236.7" r="1.2" fill="#fff" stroke="#9a9a9a" stroke-width="0.5"/>
<path d="M71.64 262.8L72.64 261.1L73.64 262.8Z" fill="#333"/>
<circle cx="83.36" cy="229.8" r="1.3" fill="#111"/>
<circle cx="84.46" cy="229.8" r="1.3" fill="#111"/>
<circle cx="85.56" cy="229.8" r="1.3" fill="#111"/>
<circle cx="86.56" cy="229.8" r="1.3" fill="#111"/>
<circle cx="91.91" cy="229.5" r="1.2" fill="#fff" stroke="#9a9a9a" stroke-width="0.5"/>
<rect x="90.81" y="230.9" width="2.2" height="2.2" fill="none" stroke="#8a8a8a" stroke-width="0.5"/>
<rect x="90.81" y="242.9" width="2.2" height="2.2" fill="none" stroke="#8a8a8a" stroke-width="0.5"/>
<path d="M97.86 259L98.86 257.3L99.86 259Z" fill="#333"/>
<circle cx="109.58" cy="229.6" r="1.3" fill="#111"/>
<circle cx="110.68" cy="229.6" r="1.3" fill="#111"/>
<circle cx="111.78" cy="229.6" r="1.3" fill="#111"/>
<circle cx="112.78" cy="229.6" r="1.3" fill="#111"/>
<circle cx="109.78" cy="231.3" r="1.3" fill="#111"/>
<circle cx="118.13" cy="229.3" r="1.2" fill="#fff" stroke="#9a9a9a" stroke-width="0.5"/>
<rect x="117.03" y="230.9" width="2.2" height="2.2" fill="none" stroke="#8a8a8a" stroke-width="0.5"/>
<rect x="117.03" y="239.5" width="2.2" height="2.2" fill="none" stroke="#8a8a8a" stroke-width="0.5"/>
<path d="M124.08 238.1L125.08 236.4L126.08 238.1Z" fill="#333"/>
<path d="M124.08 241.8L125.08 240.1L126.08 241.8Z" fill="#333"/>
<path d="M124.08 263.5L125.08 261.8L126.08 263.5Z" fill="#333"/>
<circle cx="136.2" cy="229.5" r="1.3" fill="#111"/>
<circle cx="138.6" cy="229.5" r="1.3" fill="#111"/>
<circle cx="137.4" cy="239.2" r="1.3" fill="#111"/>
<circle cx="144.35" cy="229.3" r="1.2" fill="#fff" stroke="#9a9a9a" stroke-width="0.5"/>
<rect x="143.25" y="232.6" width="2.2" height="2.2" fill="none" stroke="#8a8a8a" stroke-width="0.5"/>
<rect x="143.25" y="242.6" width="2.2" height="2.2" fill="none" stroke="#8a8a8a" stroke-width="0.5"/>
<path d="M150.3 247.6L151.3 245.9L152.3 247.6Z" fill="#333"/>
<path d="M150.3 262.3L151.3 260.6L152.3 262.3Z" fill="#333"/>
<circle cx="189.84" cy="229.5" r="1.3" fill="#111"/>
<circle cx="188.64" cy="234.1" r="1.3" fill="#111"/>
<circle cx="191.04" cy="234.1" r="1.3" fill="#111"/>
<circle cx="196.79" cy="231.3" r="1.2" fill="#fff" stroke="#9a9a9a" stroke-width="0.5"/>
<rect x="195.69" y="247.1" width="2.2" height="2.2" fill="none" stroke="#8a8a8a" stroke-width="0.5"/>
<rect x="195.69" y="249.5" width="2.2" height="2.2" fill="none" stroke="#8a8a8a" stroke-width="0.5"/>
<path d="M202.74 259.3L203.74 257.6L204.74 259.3Z" fill="#333"/>
<circle cx="214.86" cy="229.7" r="1.3" fill="#111"/>
<circle cx="217.26" cy="229.7" r="1.3" fill="#111"/>
<circle cx="216.06" cy="236.7" r="1.3" fill="#111"/>
<circle cx="223.01" cy="229.7" r="1.2" fill="#fff" stroke="#9a9a9a" stroke-width="0.5"/>
<rect x="221.91" y="251.9" width="2.2" height="2.2" fill="none" stroke="#8a8a8a" stroke-width="0.5"/>
<path d="M228.96 252.3L229.96 250.6L230.96 252.3Z" fill="#333"/>
<path d="M228.96 262.8L229.96 261.1L230.96 262.8Z" fill="#333"/>
<circle cx="241.08" cy="229.5" r="1.3" fill="#111"/>
<circle cx="243.48" cy="229.5" r="1.3" fill="#111"/>
<circle cx="242.28" cy="236.7" r="1.3" fill="#111"/>
<circle cx="249.23" cy="234.3" r="1.2" fill="#fff" stroke="#9a9a9a" stroke-width="0.5"/>
<rect x="248.13" y="252.5" width="2.2" height="2.2" fill="none" stroke="#8a8a8a" stroke-width="0.5"/>
<rect x="248.13" y="256.8" width="2.2" height="2.2" fill="none" stroke="#8a8a8a" stroke-width="0.5"/>
<path d="M255.18 242.1L256.18 240.4L257.18 242.1Z" fill="#333"/>
<path d="M255.18 256.8L256.18 255.1L257.18 256.8Z" fill="#333"/>
<circle cx="266.9" cy="229.8" r="1.3" fill="#111"/>
<circle cx="268" cy="229.8" r="1.3" fill="#111"/>
<circle cx="269.1" cy="229.8" r="1.3" fill="#111"/>
<circle cx="270.1" cy="229.8" r="1.3" fill="#111"/>
<circle cx="275.45" cy="230.7" r="1.2" fill="#fff" stroke="#9a9a9a" stroke-width="0.5"/>
<circle cx="275.45" cy="236.1" r="1.2" fill="#fff" stroke="#9a9a9a" stroke-width="0.5"/>
<rect x="274.35" y="252.5" width="2.2" height="2.2" fill="none" stroke="#8a8a8a" stroke-width="0.5"/>
<path d="M281.4 258.7L282.4 257L283.4 258.7Z" fill="#333"/>
<circle cx="294.72" cy="229.3" r="1.3" fill="#111"/>
<circle cx="293.52" cy="231.9" r="1.3" fill="#111"/>
<circle cx="295.92" cy="231.9" r="1.3" fill="#111"/>
<circle cx="301.67" cy="230.7" r="1.2" fill="#fff" stroke="#9a9a9a" stroke-width="0.5"/>
<rect x="300.57" y="256.8" width="2.2" height="2.2" fill="none" stroke="#8a8a8a" stroke-width="0.5"/>
<path d="M307.62 251.8L308.62 250.1L309.62 251.8Z" fill="#333"/>
<circle cx="354.11" cy="231.8" r="1.3" fill="#111"/>
<path d="M360.06 242.2L361.06 240.5L362.06 242.2Z" fill="#333"/>
<path d="M360.06 229.3L361.06 227.6L362.06 229.3Z" fill="#333"/>
<text transform="translate(40.97,314.5) rotate(-45)" class="xl">BSA 0.3 g/L</text>
<text transform="translate(67.19,314.5) rotate(-45)" class="xl">BSA 3 g/L</text>
<text transform="translate(93.41,314.5) rotate(-45)" class="xl">BSA 3 g/L + ery</text>
<text transform="translate(119.63,314.5) rotate(-45)" class="xl">BSA 10 g/L + yeast</text>
<text transform="translate(145.85,314.5) rotate(-45)" class="xl">BSA 80 g/L</text>
<text transform="translate(198.29,314.5) rotate(-45)" class="xl">BSA 0.3 g/L</text>
<text transform="translate(224.51,314.5) rotate(-45)" class="xl">BSA 3 g/L</text>
<text transform="translate(250.73,314.5) rotate(-45)" class="xl">BSA 3 g/L + ery</text>
<text transform="translate(276.95,314.5) rotate(-45)" class="xl">BSA 10 g/L + yeast</text>
<text transform="translate(303.17,314.5) rotate(-45)" class="xl">BSA 80 g/L</text>
<text transform="translate(360.09,315) rotate(-45)" class="xl" style="font-size:5.4px">CCM</text>
<circle cx="384.9" cy="252.2" r="1.6" fill="#111"/>
<rect x="383.6" y="265.8" width="2.8" height="2.8" fill="#fff" stroke="#999" stroke-width="0.5"/>
<circle cx="385" cy="282.5" r="1.25" fill="#6a6a6a"/>
<text x="397.4" y="255.1" class="leg">PC</text>
<text x="397.4" y="270.4" class="leg">TD</text>
<text x="397.4" y="285.7" class="leg">T0</text>
<text x="195.4" y="390.4" class="ttl">HIV-1</text>
<text x="56.4" y="410.6" class="cat">AVL</text>
<text x="120.4" y="410.6" class="cat">Trizol</text>
<text x="178.6" y="410.6" class="cat">RLT</text>
<text x="217.2" y="410.6" class="cat">A671</text>
<text x="257.1" y="410.6" class="cat">MC136</text>
<text x="305" y="410.6" class="cat">MC143</text>
<text x="348.8" y="410.6" class="cat">MC501</text>
<line x1="27" y1="411" x2="27" y2="505.1" class="ax"/>
<line x1="23.8" y1="504.7" x2="27" y2="504.7" class="ax"/>
<text x="23.4" y="506.8" class="tick">0</text>
<line x1="23.8" y1="483.01" x2="27" y2="483.01" class="ax"/>
<text x="23.4" y="485.11" class="tick">3</text>
<line x1="23.8" y1="461.32" x2="27" y2="461.32" class="ax"/>
<text x="23.4" y="463.42" class="tick">6</text>
<line x1="23.8" y1="439.63" x2="27" y2="439.63" class="ax"/>
<text x="23.4" y="441.73" class="tick">9</text>
<line x1="23.8" y1="417.94" x2="27" y2="417.94" class="ax"/>
<text x="23.4" y="420.04" class="tick">12</text>
<line x1="25.2" y1="493.85" x2="27" y2="493.85" class="axm"/>
<line x1="25.2" y1="472.16" x2="27" y2="472.16" class="axm"/>
<line x1="25.2" y1="450.47" x2="27" y2="450.47" class="axm"/>
<line x1="25.2" y1="428.78" x2="27" y2="428.78" class="axm"/>
<text transform="translate(13,457.8) rotate(-90)" class="ylab">log TCID50/mL</text>
<line x1="30.42" y1="464.6" x2="30.42" y2="470.3" stroke="#9a9a9a" stroke-width="0.6"/>
<line x1="29.42" y1="464.6" x2="31.42" y2="464.6" class="errc"/>
<rect x="29.02" y="470.3" width="2.8" height="34.4" fill="#7b7b7b" stroke="#3a3a3a" stroke-width="0.5"/>
<line x1="35.17" y1="472" x2="35.17" y2="479.3" stroke="#b0b0b0" stroke-width="0.6"/>
<line x1="34.17" y1="472" x2="36.17" y2="472" class="errc"/>
<rect x="33.77" y="479.3" width="2.8" height="25.4" fill="#b3b1b3" stroke="#606060" stroke-width="0.5"/>
<line x1="39.92" y1="474.3" x2="39.92" y2="480.2" stroke="#666666" stroke-width="0.6"/>
<line x1="38.92" y1="474.3" x2="40.92" y2="474.3" class="errc"/>
<rect x="38.52" y="480.2" width="2.8" height="24.5" fill="#ffffff" stroke="#4e4e4e" stroke-width="0.5"/>
<line x1="48.3" y1="469" x2="48.3" y2="472" stroke="#9a9a9a" stroke-width="0.6"/>
<line x1="47.3" y1="469" x2="49.3" y2="469" class="errc"/>
<rect x="46.9" y="472" width="2.8" height="32.7" fill="#7b7b7b" stroke="#3a3a3a" stroke-width="0.5"/>
<line x1="53.05" y1="478" x2="53.05" y2="482.2" stroke="#b0b0b0" stroke-width="0.6"/>
<line x1="52.05" y1="478" x2="54.05" y2="478" class="errc"/>
<rect x="51.65" y="482.2" width="2.8" height="22.5" fill="#b3b1b3" stroke="#606060" stroke-width="0.5"/>
<rect x="56.4" y="488.9" width="2.8" height="15.8" fill="#ffffff" stroke="#4e4e4e" stroke-width="0.5"/>
<rect x="64.78" y="471.2" width="2.8" height="33.5" fill="#7b7b7b" stroke="#3a3a3a" stroke-width="0.5"/>
<line x1="70.93" y1="478" x2="70.93" y2="482.2" stroke="#b0b0b0" stroke-width="0.6"/>
<line x1="69.93" y1="478" x2="71.93" y2="478" class="errc"/>
<rect x="69.53" y="482.2" width="2.8" height="22.5" fill="#b3b1b3" stroke="#606060" stroke-width="0.5"/>
<rect x="74.28" y="488.9" width="2.8" height="15.8" fill="#ffffff" stroke="#4e4e4e" stroke-width="0.5"/>
<rect x="100.54" y="470.7" width="2.8" height="34" fill="#7b7b7b" stroke="#3a3a3a" stroke-width="0.5"/>
<line x1="106.69" y1="483.6" x2="106.69" y2="492.8" stroke="#b0b0b0" stroke-width="0.6"/>
<line x1="105.69" y1="483.6" x2="107.69" y2="483.6" class="errc"/>
<rect x="105.29" y="492.8" width="2.8" height="11.9" fill="#b3b1b3" stroke="#606060" stroke-width="0.5"/>
<line x1="111.44" y1="488.9" x2="111.44" y2="497.5" stroke="#666666" stroke-width="0.6"/>
<line x1="110.44" y1="488.9" x2="112.44" y2="488.9" class="errc"/>
<rect x="110.04" y="497.5" width="2.8" height="7.2" fill="#ffffff" stroke="#4e4e4e" stroke-width="0.5"/>
<rect x="118.42" y="473.6" width="2.8" height="31.1" fill="#7b7b7b" stroke="#3a3a3a" stroke-width="0.5"/>
<rect x="123.17" y="488" width="2.8" height="16.7" fill="#b3b1b3" stroke="#606060" stroke-width="0.5"/>
<line x1="129.32" y1="488.9" x2="129.32" y2="498.2" stroke="#666666" stroke-width="0.6"/>
<line x1="128.32" y1="488.9" x2="130.32" y2="488.9" class="errc"/>
<rect x="127.92" y="498.2" width="2.8" height="6.5" fill="#ffffff" stroke="#4e4e4e" stroke-width="0.5"/>
<rect x="136.3" y="463.6" width="2.8" height="41.1" fill="#7b7b7b" stroke="#3a3a3a" stroke-width="0.5"/>
<line x1="142.45" y1="484" x2="142.45" y2="487.1" stroke="#b0b0b0" stroke-width="0.6"/>
<line x1="141.45" y1="484" x2="143.45" y2="484" class="errc"/>
<rect x="141.05" y="487.1" width="2.8" height="17.6" fill="#b3b1b3" stroke="#606060" stroke-width="0.5"/>
<line x1="147.2" y1="498.2" x2="147.2" y2="502.1" stroke="#666666" stroke-width="0.6"/>
<line x1="146.2" y1="498.2" x2="148.2" y2="498.2" class="errc"/>
<rect x="145.8" y="502.1" width="2.8" height="2.6" fill="#ffffff" stroke="#4e4e4e" stroke-width="0.5"/>
<rect x="176.81" y="480.6" width="2.8" height="24.1" fill="#b3b1b3" stroke="#606060" stroke-width="0.5"/>
<rect x="181.56" y="481" width="2.8" height="23.7" fill="#ffffff" stroke="#4e4e4e" stroke-width="0.5"/>
<rect x="212.57" y="478.6" width="2.8" height="26.1" fill="#b3b1b3" stroke="#606060" stroke-width="0.5"/>
<rect x="217.32" y="478.9" width="2.8" height="25.8" fill="#ffffff" stroke="#4e4e4e" stroke-width="0.5"/>
<rect x="243.58" y="473.5" width="2.8" height="31.2" fill="#7b7b7b" stroke="#3a3a3a" stroke-width="0.5"/>
<rect x="248.33" y="473.5" width="2.8" height="31.2" fill="#b3b1b3" stroke="#606060" stroke-width="0.5"/>
<line x1="254.48" y1="472.4" x2="254.48" y2="476.9" stroke="#666666" stroke-width="0.6"/>
<line x1="253.48" y1="472.4" x2="255.48" y2="472.4" class="errc"/>
<rect x="253.08" y="476.9" width="2.8" height="27.8" fill="#ffffff" stroke="#4e4e4e" stroke-width="0.5"/>
<rect x="261.46" y="473.5" width="2.8" height="31.2" fill="#7b7b7b" stroke="#3a3a3a" stroke-width="0.5"/>
<rect x="266.21" y="473" width="2.8" height="31.7" fill="#b3b1b3" stroke="#606060" stroke-width="0.5"/>
<line x1="272.36" y1="469.2" x2="272.36" y2="472.1" stroke="#666666" stroke-width="0.6"/>
<line x1="271.36" y1="469.2" x2="273.36" y2="469.2" class="errc"/>
<rect x="270.96" y="472.1" width="2.8" height="32.6" fill="#ffffff" stroke="#4e4e4e" stroke-width="0.5"/>
<line x1="303.37" y1="472.5" x2="303.37" y2="477.2" stroke="#b0b0b0" stroke-width="0.6"/>
<line x1="302.37" y1="472.5" x2="304.37" y2="472.5" class="errc"/>
<rect x="301.97" y="477.2" width="2.8" height="27.5" fill="#b3b1b3" stroke="#606060" stroke-width="0.5"/>
<line x1="308.12" y1="478.1" x2="308.12" y2="481.7" stroke="#666666" stroke-width="0.6"/>
<line x1="307.12" y1="478.1" x2="309.12" y2="478.1" class="errc"/>
<rect x="306.72" y="481.7" width="2.8" height="23" fill="#ffffff" stroke="#4e4e4e" stroke-width="0.5"/>
<rect x="332.98" y="473.6" width="2.8" height="31.1" fill="#7b7b7b" stroke="#3a3a3a" stroke-width="0.5"/>
<rect x="337.73" y="473" width="2.8" height="31.7" fill="#b3b1b3" stroke="#606060" stroke-width="0.5"/>
<rect x="342.48" y="474.5" width="2.8" height="30.2" fill="#ffffff" stroke="#4e4e4e" stroke-width="0.5"/>
<line x1="352.26" y1="467.2" x2="352.26" y2="473" stroke="#9a9a9a" stroke-width="0.6"/>
<line x1="351.26" y1="467.2" x2="353.26" y2="467.2" class="errc"/>
<rect x="350.86" y="473" width="2.8" height="31.7" fill="#7b7b7b" stroke="#3a3a3a" stroke-width="0.5"/>
<rect x="355.61" y="472.3" width="2.8" height="32.4" fill="#b3b1b3" stroke="#606060" stroke-width="0.5"/>
<line x1="361.76" y1="469" x2="361.76" y2="473" stroke="#666666" stroke-width="0.6"/>
<line x1="360.76" y1="469" x2="362.76" y2="469" class="errc"/>
<rect x="360.36" y="473" width="2.8" height="31.7" fill="#ffffff" stroke="#4e4e4e" stroke-width="0.5"/>
<line x1="27" y1="498.1" x2="365.5" y2="498.1" class="dash" stroke-dasharray="1.3 1.59" stroke-dashoffset="1.95"/>
<line x1="27" y1="504.7" x2="365.5" y2="504.7" class="bl"/>
<circle cx="30.42" cy="464.6" r="1.3" fill="#111"/>
<circle cx="30.42" cy="469" r="1.3" fill="#111"/>
<circle cx="30.42" cy="479.3" r="1.3" fill="#111"/>
<circle cx="35.17" cy="471.6" r="1.2" fill="#fff" stroke="#9a9a9a" stroke-width="0.5"/>
<rect x="34.07" y="478.5" width="2.2" height="2.2" fill="none" stroke="#8a8a8a" stroke-width="0.5"/>
<path d="M38.92 475.1L39.92 473.4L40.92 475.1Z" fill="#333"/>
<circle cx="48.3" cy="469" r="1.3" fill="#111"/>
<circle cx="48.3" cy="472.9" r="1.3" fill="#111"/>
<circle cx="48.3" cy="474.7" r="1.3" fill="#111"/>
<rect x="51.95" y="477.1" width="2.2" height="2.2" fill="none" stroke="#8a8a8a" stroke-width="0.5"/>
<rect x="51.95" y="478.9" width="2.2" height="2.2" fill="none" stroke="#8a8a8a" stroke-width="0.5"/>
<rect x="51.95" y="485.8" width="2.2" height="2.2" fill="none" stroke="#8a8a8a" stroke-width="0.5"/>
<path d="M56.8 489.3L57.8 487.6L58.8 489.3Z" fill="#333"/>
<circle cx="66.18" cy="471.6" r="1.3" fill="#111"/>
<circle cx="66.18" cy="474.7" r="1.3" fill="#111"/>
<rect x="69.83" y="477.1" width="2.2" height="2.2" fill="none" stroke="#8a8a8a" stroke-width="0.5"/>
<rect x="69.83" y="478.9" width="2.2" height="2.2" fill="none" stroke="#8a8a8a" stroke-width="0.5"/>
<path d="M74.68 489.3L75.68 487.6L76.68 489.3Z" fill="#333"/>
<circle cx="101.94" cy="467.2" r="1.3" fill="#111"/>
<circle cx="101.94" cy="471.6" r="1.3" fill="#111"/>
<rect x="105.59" y="482.5" width="2.2" height="2.2" fill="none" stroke="#8a8a8a" stroke-width="0.5"/>
<rect x="105.59" y="485.9" width="2.2" height="2.2" fill="none" stroke="#8a8a8a" stroke-width="0.5"/>
<rect x="105.59" y="488.9" width="2.2" height="2.2" fill="none" stroke="#8a8a8a" stroke-width="0.5"/>
<path d="M110.44 489.8L111.44 488.1L112.44 489.8Z" fill="#333"/>
<rect x="110.34" y="498.4" width="2.2" height="2.2" fill="none" stroke="#8a8a8a" stroke-width="0.5"/>
<circle cx="119.82" cy="469.3" r="1.3" fill="#111"/>
<circle cx="119.82" cy="474.3" r="1.3" fill="#111"/>
<rect x="123.47" y="487.2" width="2.2" height="2.2" fill="none" stroke="#8a8a8a" stroke-width="0.5"/>
<path d="M128.32 489.8L129.32 488.1L130.32 489.8Z" fill="#333"/>
<rect x="128.22" y="498.9" width="2.2" height="2.2" fill="none" stroke="#8a8a8a" stroke-width="0.5"/>
<circle cx="137.7" cy="461.9" r="1.3" fill="#111"/>
<circle cx="137.7" cy="465" r="1.3" fill="#111"/>
<circle cx="142.45" cy="483.6" r="1.2" fill="#fff" stroke="#9a9a9a" stroke-width="0.5"/>
<path d="M146.2 499.3L147.2 497.6L148.2 499.3Z" fill="#333"/>
<rect x="177.11" y="479.9" width="2.2" height="2.2" fill="none" stroke="#8a8a8a" stroke-width="0.5"/>
<path d="M181.96 481.8L182.96 480.1L183.96 481.8Z" fill="#333"/>
<rect x="212.87" y="477.9" width="2.2" height="2.2" fill="none" stroke="#8a8a8a" stroke-width="0.5"/>
<path d="M217.72 479.8L218.72 478.1L219.72 479.8Z" fill="#333"/>
<circle cx="244.98" cy="474" r="1.3" fill="#111"/>
<rect x="248.63" y="472.9" width="2.2" height="2.2" fill="none" stroke="#8a8a8a" stroke-width="0.5"/>
<path d="M253.48 473.6L254.48 471.9L255.48 473.6Z" fill="#333"/>
<rect x="253.38" y="477.4" width="2.2" height="2.2" fill="none" stroke="#8a8a8a" stroke-width="0.5"/>
<circle cx="262.86" cy="474" r="1.3" fill="#111"/>
<rect x="266.51" y="473.4" width="2.2" height="2.2" fill="none" stroke="#8a8a8a" stroke-width="0.5"/>
<rect x="266.51" y="476.9" width="2.2" height="2.2" fill="none" stroke="#8a8a8a" stroke-width="0.5"/>
<path d="M271.36 470L272.36 468.3L273.36 470Z" fill="#333"/>
<circle cx="272.36" cy="474" r="1.2" fill="#fff" stroke="#9a9a9a" stroke-width="0.5"/>
<circle cx="303.37" cy="471.8" r="1.2" fill="#fff" stroke="#9a9a9a" stroke-width="0.5"/>
<path d="M307.12 478.9L308.12 477.2L309.12 478.9Z" fill="#333"/>
<circle cx="334.38" cy="472.3" r="1.3" fill="#111"/>
<rect x="338.03" y="472.9" width="2.2" height="2.2" fill="none" stroke="#8a8a8a" stroke-width="0.5"/>
<path d="M342.88 475.3L343.88 473.6L344.88 475.3Z" fill="#333"/>
<circle cx="352.26" cy="467.2" r="1.3" fill="#111"/>
<circle cx="352.26" cy="474" r="1.3" fill="#111"/>
<rect x="355.91" y="472.4" width="2.2" height="2.2" fill="none" stroke="#8a8a8a" stroke-width="0.5"/>
<circle cx="361.76" cy="469" r="1.2" fill="#fff" stroke="#9a9a9a" stroke-width="0.5"/>
<text transform="translate(36.17,509.2) rotate(-45)" class="xl">BSA 0.3 g/L</text>
<text transform="translate(54.05,509.2) rotate(-45)" class="xl">BSA 10 g/L + yeast</text>
<text transform="translate(71.93,509.2) rotate(-45)" class="xl">BSA 80 g/L</text>
<text transform="translate(107.69,509.2) rotate(-45)" class="xl">BSA 0.3 g/L</text>
<text transform="translate(125.57,509.2) rotate(-45)" class="xl">BSA 10 g/L + yeast</text>
<text transform="translate(143.45,509.2) rotate(-45)" class="xl">BSA 80 g/L</text>
<text transform="translate(180.89,510.2) rotate(-45)" class="xl" style="font-size:5.4px">CCM</text>
<text transform="translate(218.15,510.2) rotate(-45)" class="xl" style="font-size:5.4px">CCM</text>
<text transform="translate(250.73,509.2) rotate(-45)" class="xl">BSA 0.3 g/L</text>
<text transform="translate(268.61,509.2) rotate(-45)" class="xl">BSA 80 g/L</text>
<text transform="translate(308.34,510.2) rotate(-45)" class="xl" style="font-size:5.4px">CCM</text>
<text transform="translate(340.13,509.2) rotate(-45)" class="xl">BSA 0.3 g/L</text>
<text transform="translate(358.01,509.2) rotate(-45)" class="xl">BSA 80 g/L</text>
<circle cx="384.9" cy="433.3" r="1.6" fill="#111"/>
<rect x="383.6" y="446.5" width="2.8" height="2.8" fill="#fff" stroke="#999" stroke-width="0.5"/>
<circle cx="385" cy="463" r="1.25" fill="#6a6a6a"/>
<text x="397.4" y="436.2" class="leg">PC</text>
<text x="397.4" y="451.1" class="leg">TD</text>
<text x="397.4" y="466.2" class="leg">T0</text>
</svg>
</body></html>
